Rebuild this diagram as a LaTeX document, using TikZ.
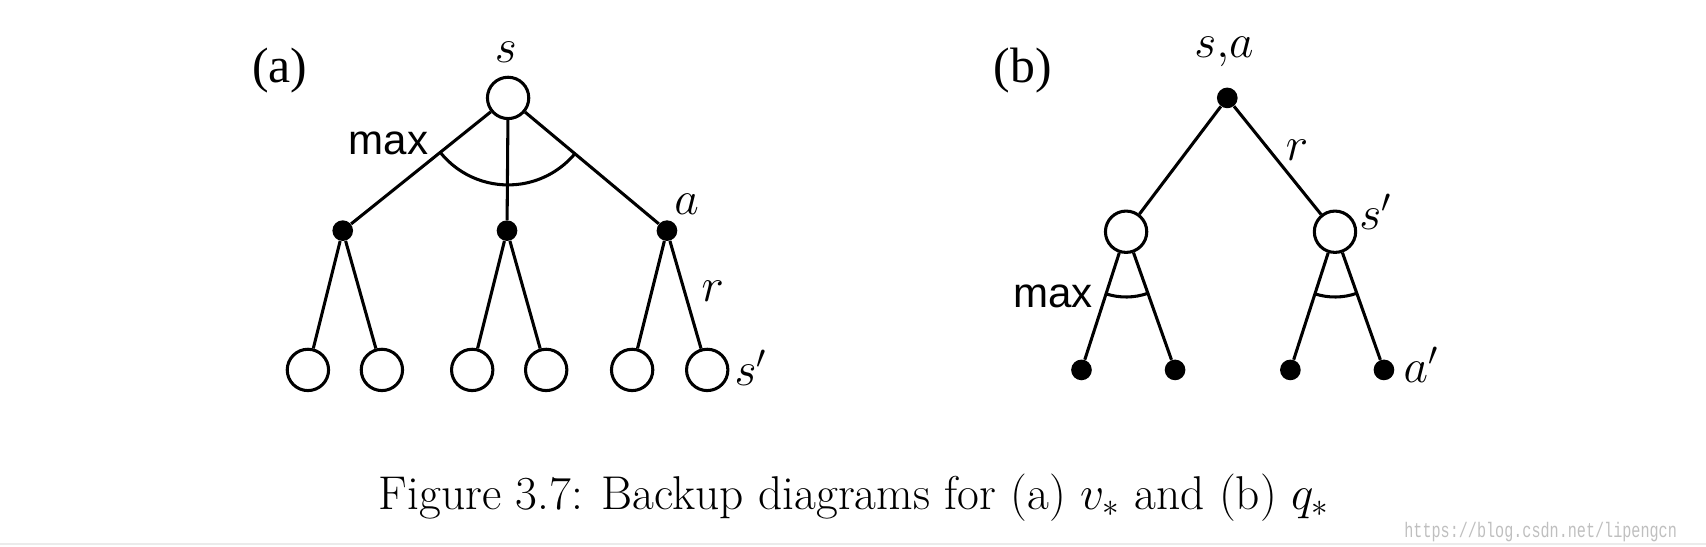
\documentclass[tikz,border=0pt]{standalone}
\usepackage{fontspec}
\newfontfamily\tms{Liberation Serif}
\newfontfamily\hel{Liberation Sans}
\newfontfamily\mono{Liberation Mono}
\begin{document}
\begin{tikzpicture}[x=0.02cm,y=-0.02cm,
  ln/.style={line width=1.6pt},
  open/.style={circle,draw,line width=1.6pt,fill=white,minimum size=0.76cm,inner sep=0pt},
  dot/.style={circle,fill=black,minimum size=0.38cm,inner sep=0pt},
  lab/.style={font=\fontsize{26}{28}\selectfont,inner sep=0pt},
  plab/.style={font=\fontsize{26}{28}\selectfont\tms,inner sep=0pt},
  mx/.style={font=\fontsize{22}{24}\selectfont\hel,inner sep=0pt}]
\useasboundingbox (0,0) rectangle (1568,502);
\draw[black!8,line width=1pt] (0,500) -- (1568,500);
% (a)
\node[plab] (la) at (257,65) {(a)};
\node[open] (s) at (467,90) {};
\node[lab] (ls) at (465,48) {$s$};
\node[dot] (a1) at (315,212) {};
\node[dot] (a2) at (466,212) {};
\node[dot] (a3) at (613,212) {};
\node[lab] (la3) at (631,188) {$a$};
\foreach \n/\x in {l1/283,l2/351,l3/434,l4/502,l5/581,l6/650}
  \node[open] (\n) at (\x,340) {};
\node[lab] (lsp) at (690,338) {$s'$};
\node[lab] (lr) at (655,268) {$r$};
\node[mx] (lmax) at (357,132) {max};
\draw[ln] (s) -- (a1) (s) -- (a2) (s) -- (a3);
\draw[ln] (a1) -- (l1) (a1) -- (l2) (a2) -- (l3) (a2) -- (l4) (a3) -- (l5) (a3) -- (l6);
\draw[ln] ([shift={(218.7:1.6cm)}]s.center) arc[start angle=218.7,end angle=320.1,radius=1.6cm];
% (b)
\node[plab] (lb) at (940,65) {(b)};
\node[dot] (t) at (1128,90) {};
\node[lab] (lsa) at (1125,48) {$s{,}a$};
\node[open] (c1) at (1035,213) {};
\node[open] (c2) at (1227,213) {};
\node[lab] (lsp2) at (1264,195) {$s'$};
\node[lab] (lr2) at (1192,138) {$r$};
\foreach \n/\x in {d1/994,d2/1080,d3/1186,d4/1272}
  \node[dot] (\n) at (\x,340) {};
\node[lab] (lap) at (1306,335) {$a'$};
\node[mx] (lmax2) at (968,272) {max};
\draw[ln] (t) -- (c1) (t) -- (c2);
\draw[ln] (c1) -- (d1) (c1) -- (d2) (c2) -- (d3) (c2) -- (d4);
\draw[ln] ([shift={(252.1:1.2cm)}]c1.center) arc[start angle=252.1,end angle=289.5,radius=1.2cm];
\draw[ln] ([shift={(252.1:1.2cm)}]c2.center) arc[start angle=252.1,end angle=289.5,radius=1.2cm];
% caption
\node[font=\fontsize{24.8}{27}\selectfont,inner sep=0pt] (cap) at (785,457) {Figure 3.7: Backup diagrams for (a) $v_*$ and (b) $q_*$};
\node[font=\fontsize{11}{13}\selectfont\mono,text=black!25,inner sep=0pt,xscale=0.72] (wm) at (1416,489) {https://blog.csdn.net/lipengcn};
\end{tikzpicture}
\end{document}
